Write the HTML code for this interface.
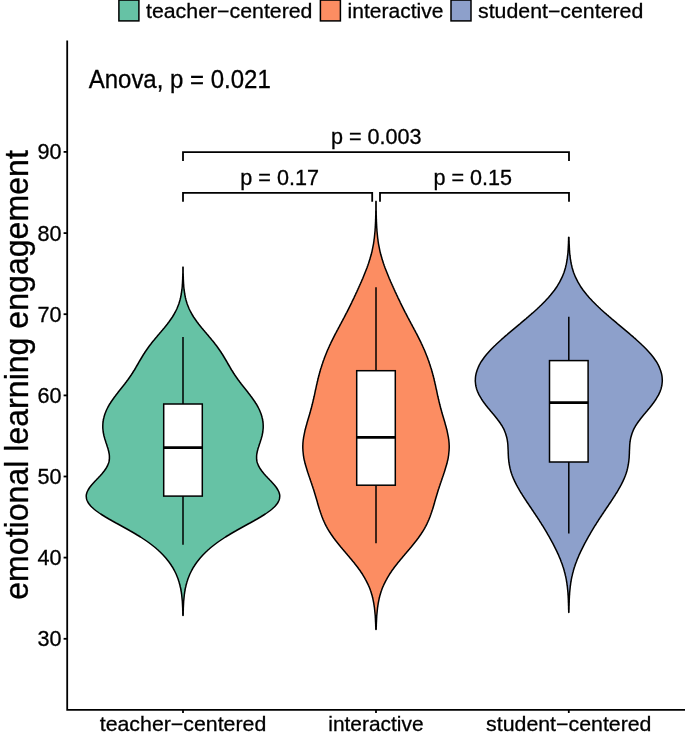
<!DOCTYPE html>
<html><head><meta charset="utf-8"><title>violin</title>
<style>
html,body{margin:0;padding:0;background:#fff;}
svg{display:block}
text{font-family:"Liberation Sans",Arial,sans-serif;fill:#000;stroke:#000;stroke-width:0.3px}
.t{font-size:21.33px}
</style></head><body>
<svg width="685" height="738" viewBox="0 0 685 738">
<rect width="685" height="738" fill="#fff"/>
<path d="M183.1,267.0 L183.1,268.0 L183.1,269.0 L183.1,270.0 L183.1,271.0 L183.1,272.0 L183.1,273.0 L183.2,274.0 L183.2,275.0 L183.2,276.0 L183.3,277.0 L183.3,278.0 L183.3,279.0 L183.4,280.0 L183.4,281.0 L183.5,282.0 L183.5,283.0 L183.6,284.0 L183.7,285.0 L183.7,286.0 L183.8,287.0 L183.9,288.0 L184.0,289.0 L184.1,290.0 L184.3,291.0 L184.4,292.0 L184.6,293.0 L184.7,294.0 L184.9,295.0 L185.1,296.0 L185.3,297.0 L185.5,298.0 L185.8,299.0 L186.0,300.0 L186.3,301.0 L186.6,302.0 L186.9,303.0 L187.2,304.0 L187.6,305.0 L188.0,306.0 L188.4,307.0 L188.8,308.0 L189.2,309.0 L189.7,310.0 L190.2,311.0 L190.7,312.0 L191.3,313.0 L191.8,314.0 L192.4,315.0 L193.0,316.0 L193.6,317.0 L194.3,318.0 L195.0,319.0 L195.7,320.0 L196.4,321.0 L197.1,322.0 L197.9,323.0 L198.6,324.0 L199.4,325.0 L200.2,326.0 L201.0,327.0 L201.8,328.0 L202.7,329.0 L203.5,330.0 L204.4,331.0 L205.2,332.0 L206.1,333.0 L206.9,334.0 L207.8,335.0 L208.6,336.0 L209.4,337.0 L210.3,338.0 L211.1,339.0 L211.9,340.0 L212.8,341.0 L213.6,342.0 L214.4,343.0 L215.1,344.0 L215.9,345.0 L216.7,346.0 L217.4,347.0 L218.1,348.0 L218.8,349.0 L219.5,350.0 L220.2,351.0 L220.9,352.0 L221.5,353.0 L222.2,354.0 L222.8,355.0 L223.4,356.0 L224.0,357.0 L224.6,358.0 L225.2,359.0 L225.8,360.0 L226.4,361.0 L227.0,362.0 L227.5,363.0 L228.1,364.0 L228.7,365.0 L229.3,366.0 L229.9,367.0 L230.4,368.0 L231.0,369.0 L231.6,370.0 L232.3,371.0 L232.9,372.0 L233.5,373.0 L234.2,374.0 L234.8,375.0 L235.5,376.0 L236.2,377.0 L236.9,378.0 L237.6,379.0 L238.3,380.0 L239.1,381.0 L239.8,382.0 L240.6,383.0 L241.3,384.0 L242.1,385.0 L242.9,386.0 L243.7,387.0 L244.5,388.0 L245.3,389.0 L246.1,390.0 L246.9,391.0 L247.7,392.0 L248.4,393.0 L249.2,394.0 L250.0,395.0 L250.7,396.0 L251.5,397.0 L252.2,398.0 L252.9,399.0 L253.6,400.0 L254.3,401.0 L255.0,402.0 L255.6,403.0 L256.3,404.0 L256.9,405.0 L257.4,406.0 L258.0,407.0 L258.5,408.0 L259.0,409.0 L259.5,410.0 L259.9,411.0 L260.3,412.0 L260.7,413.0 L261.1,414.0 L261.4,415.0 L261.7,416.0 L262.0,417.0 L262.2,418.0 L262.5,419.0 L262.6,420.0 L262.8,421.0 L262.9,422.0 L263.1,423.0 L263.1,424.0 L263.2,425.0 L263.2,426.0 L263.2,427.0 L263.2,428.0 L263.1,429.0 L263.0,430.0 L262.9,431.0 L262.8,432.0 L262.6,433.0 L262.4,434.0 L262.2,435.0 L262.0,436.0 L261.7,437.0 L261.4,438.0 L261.2,439.0 L260.8,440.0 L260.5,441.0 L260.2,442.0 L259.9,443.0 L259.5,444.0 L259.2,445.0 L258.9,446.0 L258.6,447.0 L258.2,448.0 L257.9,449.0 L257.7,450.0 L257.4,451.0 L257.2,452.0 L257.0,453.0 L256.8,454.0 L256.7,455.0 L256.6,456.0 L256.6,457.0 L256.6,458.0 L256.6,459.0 L256.7,460.0 L256.9,461.0 L257.1,462.0 L257.4,463.0 L257.8,464.0 L258.2,465.0 L258.6,466.0 L259.2,467.0 L259.7,468.0 L260.4,469.0 L261.1,470.0 L261.8,471.0 L262.6,472.0 L263.4,473.0 L264.2,474.0 L265.1,475.0 L266.0,476.0 L267.0,477.0 L267.9,478.0 L268.9,479.0 L269.8,480.0 L270.8,481.0 L271.7,482.0 L272.6,483.0 L273.5,484.0 L274.4,485.0 L275.2,486.0 L276.0,487.0 L276.7,488.0 L277.3,489.0 L277.9,490.0 L278.4,491.0 L278.9,492.0 L279.2,493.0 L279.5,494.0 L279.7,495.0 L279.8,496.0 L279.7,497.0 L279.6,498.0 L279.4,499.0 L279.1,500.0 L278.7,501.0 L278.2,502.0 L277.6,503.0 L276.9,504.0 L276.1,505.0 L275.3,506.0 L274.3,507.0 L273.2,508.0 L272.1,509.0 L270.9,510.0 L269.6,511.0 L268.2,512.0 L266.8,513.0 L265.3,514.0 L263.7,515.0 L262.1,516.0 L260.5,517.0 L258.8,518.0 L257.1,519.0 L255.3,520.0 L253.6,521.0 L251.8,522.0 L250.0,523.0 L248.1,524.0 L246.3,525.0 L244.5,526.0 L242.7,527.0 L240.9,528.0 L239.1,529.0 L237.3,530.0 L235.6,531.0 L233.8,532.0 L232.1,533.0 L230.4,534.0 L228.8,535.0 L227.1,536.0 L225.5,537.0 L224.0,538.0 L222.5,539.0 L221.0,540.0 L219.5,541.0 L218.1,542.0 L216.7,543.0 L215.4,544.0 L214.1,545.0 L212.8,546.0 L211.5,547.0 L210.3,548.0 L209.2,549.0 L208.0,550.0 L207.0,551.0 L205.9,552.0 L204.9,553.0 L203.9,554.0 L202.9,555.0 L202.0,556.0 L201.1,557.0 L200.2,558.0 L199.4,559.0 L198.6,560.0 L197.8,561.0 L197.0,562.0 L196.3,563.0 L195.6,564.0 L194.9,565.0 L194.3,566.0 L193.6,567.0 L193.0,568.0 L192.5,569.0 L191.9,570.0 L191.4,571.0 L190.9,572.0 L190.4,573.0 L189.9,574.0 L189.5,575.0 L189.1,576.0 L188.7,577.0 L188.3,578.0 L187.9,579.0 L187.6,580.0 L187.3,581.0 L186.9,582.0 L186.7,583.0 L186.4,584.0 L186.1,585.0 L185.9,586.0 L185.7,587.0 L185.4,588.0 L185.2,589.0 L185.1,590.0 L184.9,591.0 L184.7,592.0 L184.6,593.0 L184.4,594.0 L184.3,595.0 L184.2,596.0 L184.1,597.0 L184.0,598.0 L183.9,599.0 L183.8,600.0 L183.7,601.0 L183.6,602.0 L183.6,603.0 L183.5,604.0 L183.5,605.0 L183.4,606.0 L183.4,607.0 L183.3,608.0 L183.3,609.0 L183.3,610.0 L183.2,611.0 L183.2,612.0 L183.2,613.0 L183.2,614.0 L183.1,615.6 L182.9,615.6 L182.8,614.0 L182.8,613.0 L182.8,612.0 L182.8,611.0 L182.7,610.0 L182.7,609.0 L182.7,608.0 L182.6,607.0 L182.6,606.0 L182.5,605.0 L182.5,604.0 L182.4,603.0 L182.4,602.0 L182.3,601.0 L182.2,600.0 L182.1,599.0 L182.0,598.0 L181.9,597.0 L181.8,596.0 L181.7,595.0 L181.6,594.0 L181.4,593.0 L181.3,592.0 L181.1,591.0 L180.9,590.0 L180.8,589.0 L180.6,588.0 L180.3,587.0 L180.1,586.0 L179.9,585.0 L179.6,584.0 L179.3,583.0 L179.1,582.0 L178.7,581.0 L178.4,580.0 L178.1,579.0 L177.7,578.0 L177.3,577.0 L176.9,576.0 L176.5,575.0 L176.1,574.0 L175.6,573.0 L175.1,572.0 L174.6,571.0 L174.1,570.0 L173.5,569.0 L173.0,568.0 L172.4,567.0 L171.7,566.0 L171.1,565.0 L170.4,564.0 L169.7,563.0 L169.0,562.0 L168.2,561.0 L167.4,560.0 L166.6,559.0 L165.8,558.0 L164.9,557.0 L164.0,556.0 L163.1,555.0 L162.1,554.0 L161.1,553.0 L160.1,552.0 L159.0,551.0 L158.0,550.0 L156.8,549.0 L155.7,548.0 L154.5,547.0 L153.2,546.0 L151.9,545.0 L150.6,544.0 L149.3,543.0 L147.9,542.0 L146.5,541.0 L145.0,540.0 L143.5,539.0 L142.0,538.0 L140.5,537.0 L138.9,536.0 L137.2,535.0 L135.6,534.0 L133.9,533.0 L132.2,532.0 L130.4,531.0 L128.7,530.0 L126.9,529.0 L125.1,528.0 L123.3,527.0 L121.5,526.0 L119.7,525.0 L117.9,524.0 L116.0,523.0 L114.2,522.0 L112.4,521.0 L110.7,520.0 L108.9,519.0 L107.2,518.0 L105.5,517.0 L103.9,516.0 L102.3,515.0 L100.7,514.0 L99.2,513.0 L97.8,512.0 L96.4,511.0 L95.1,510.0 L93.9,509.0 L92.8,508.0 L91.7,507.0 L90.7,506.0 L89.9,505.0 L89.1,504.0 L88.4,503.0 L87.8,502.0 L87.3,501.0 L86.9,500.0 L86.6,499.0 L86.4,498.0 L86.3,497.0 L86.2,496.0 L86.3,495.0 L86.5,494.0 L86.8,493.0 L87.1,492.0 L87.6,491.0 L88.1,490.0 L88.7,489.0 L89.3,488.0 L90.0,487.0 L90.8,486.0 L91.6,485.0 L92.5,484.0 L93.4,483.0 L94.3,482.0 L95.2,481.0 L96.2,480.0 L97.1,479.0 L98.1,478.0 L99.0,477.0 L100.0,476.0 L100.9,475.0 L101.8,474.0 L102.6,473.0 L103.4,472.0 L104.2,471.0 L104.9,470.0 L105.6,469.0 L106.3,468.0 L106.8,467.0 L107.4,466.0 L107.8,465.0 L108.2,464.0 L108.6,463.0 L108.9,462.0 L109.1,461.0 L109.3,460.0 L109.4,459.0 L109.4,458.0 L109.4,457.0 L109.4,456.0 L109.3,455.0 L109.2,454.0 L109.0,453.0 L108.8,452.0 L108.6,451.0 L108.3,450.0 L108.1,449.0 L107.8,448.0 L107.4,447.0 L107.1,446.0 L106.8,445.0 L106.5,444.0 L106.1,443.0 L105.8,442.0 L105.5,441.0 L105.2,440.0 L104.8,439.0 L104.6,438.0 L104.3,437.0 L104.0,436.0 L103.8,435.0 L103.6,434.0 L103.4,433.0 L103.2,432.0 L103.1,431.0 L103.0,430.0 L102.9,429.0 L102.8,428.0 L102.8,427.0 L102.8,426.0 L102.8,425.0 L102.9,424.0 L102.9,423.0 L103.1,422.0 L103.2,421.0 L103.4,420.0 L103.5,419.0 L103.8,418.0 L104.0,417.0 L104.3,416.0 L104.6,415.0 L104.9,414.0 L105.3,413.0 L105.7,412.0 L106.1,411.0 L106.5,410.0 L107.0,409.0 L107.5,408.0 L108.0,407.0 L108.6,406.0 L109.1,405.0 L109.7,404.0 L110.4,403.0 L111.0,402.0 L111.7,401.0 L112.4,400.0 L113.1,399.0 L113.8,398.0 L114.5,397.0 L115.3,396.0 L116.0,395.0 L116.8,394.0 L117.6,393.0 L118.3,392.0 L119.1,391.0 L119.9,390.0 L120.7,389.0 L121.5,388.0 L122.3,387.0 L123.1,386.0 L123.9,385.0 L124.7,384.0 L125.4,383.0 L126.2,382.0 L126.9,381.0 L127.7,380.0 L128.4,379.0 L129.1,378.0 L129.8,377.0 L130.5,376.0 L131.2,375.0 L131.8,374.0 L132.5,373.0 L133.1,372.0 L133.7,371.0 L134.4,370.0 L135.0,369.0 L135.6,368.0 L136.1,367.0 L136.7,366.0 L137.3,365.0 L137.9,364.0 L138.5,363.0 L139.0,362.0 L139.6,361.0 L140.2,360.0 L140.8,359.0 L141.4,358.0 L142.0,357.0 L142.6,356.0 L143.2,355.0 L143.8,354.0 L144.5,353.0 L145.1,352.0 L145.8,351.0 L146.5,350.0 L147.2,349.0 L147.9,348.0 L148.6,347.0 L149.3,346.0 L150.1,345.0 L150.9,344.0 L151.6,343.0 L152.4,342.0 L153.2,341.0 L154.1,340.0 L154.9,339.0 L155.7,338.0 L156.6,337.0 L157.4,336.0 L158.2,335.0 L159.1,334.0 L159.9,333.0 L160.8,332.0 L161.6,331.0 L162.5,330.0 L163.3,329.0 L164.2,328.0 L165.0,327.0 L165.8,326.0 L166.6,325.0 L167.4,324.0 L168.1,323.0 L168.9,322.0 L169.6,321.0 L170.3,320.0 L171.0,319.0 L171.7,318.0 L172.4,317.0 L173.0,316.0 L173.6,315.0 L174.2,314.0 L174.7,313.0 L175.3,312.0 L175.8,311.0 L176.3,310.0 L176.8,309.0 L177.2,308.0 L177.6,307.0 L178.0,306.0 L178.4,305.0 L178.8,304.0 L179.1,303.0 L179.4,302.0 L179.7,301.0 L180.0,300.0 L180.2,299.0 L180.5,298.0 L180.7,297.0 L180.9,296.0 L181.1,295.0 L181.3,294.0 L181.4,293.0 L181.6,292.0 L181.7,291.0 L181.9,290.0 L182.0,289.0 L182.1,288.0 L182.2,287.0 L182.3,286.0 L182.3,285.0 L182.4,284.0 L182.5,283.0 L182.5,282.0 L182.6,281.0 L182.6,280.0 L182.7,279.0 L182.7,278.0 L182.7,277.0 L182.8,276.0 L182.8,275.0 L182.8,274.0 L182.9,273.0 L182.9,272.0 L182.9,271.0 L182.9,270.0 L182.9,269.0 L182.9,268.0 L182.9,267.0Z" fill="#66C2A5" stroke="#000" stroke-width="1.5" stroke-linejoin="miter" stroke-miterlimit="1"/>
<path d="M376.1,201.3 L376.1,202.3 L376.1,203.3 L376.1,204.3 L376.1,205.3 L376.1,206.3 L376.1,207.3 L376.1,208.3 L376.1,209.3 L376.1,210.3 L376.2,211.3 L376.2,212.3 L376.2,213.3 L376.2,214.3 L376.2,215.3 L376.3,216.3 L376.3,217.3 L376.3,218.3 L376.4,219.3 L376.4,220.3 L376.4,221.3 L376.5,222.3 L376.5,223.3 L376.6,224.3 L376.6,225.3 L376.7,226.3 L376.7,227.3 L376.8,228.3 L376.9,229.3 L376.9,230.3 L377.0,231.3 L377.1,232.3 L377.2,233.3 L377.3,234.3 L377.4,235.3 L377.5,236.3 L377.6,237.3 L377.7,238.3 L377.9,239.3 L378.0,240.3 L378.1,241.3 L378.3,242.3 L378.4,243.3 L378.6,244.3 L378.8,245.3 L379.0,246.3 L379.2,247.3 L379.4,248.3 L379.6,249.3 L379.8,250.3 L380.0,251.3 L380.2,252.3 L380.5,253.3 L380.7,254.3 L381.0,255.3 L381.3,256.3 L381.6,257.3 L381.9,258.3 L382.1,259.3 L382.5,260.3 L382.8,261.3 L383.1,262.3 L383.4,263.3 L383.8,264.3 L384.1,265.3 L384.5,266.3 L384.8,267.3 L385.2,268.3 L385.6,269.3 L386.0,270.3 L386.4,271.3 L386.8,272.3 L387.2,273.3 L387.6,274.3 L388.0,275.3 L388.4,276.3 L388.8,277.3 L389.2,278.3 L389.7,279.3 L390.1,280.3 L390.5,281.3 L391.0,282.3 L391.4,283.3 L391.9,284.3 L392.3,285.3 L392.8,286.3 L393.2,287.3 L393.7,288.3 L394.1,289.3 L394.6,290.3 L395.0,291.3 L395.5,292.3 L396.0,293.3 L396.4,294.3 L396.9,295.3 L397.4,296.3 L397.8,297.3 L398.3,298.3 L398.8,299.3 L399.3,300.3 L399.8,301.3 L400.2,302.3 L400.7,303.3 L401.2,304.3 L401.7,305.3 L402.2,306.3 L402.7,307.3 L403.2,308.3 L403.7,309.3 L404.2,310.3 L404.7,311.3 L405.2,312.3 L405.8,313.3 L406.3,314.3 L406.8,315.3 L407.3,316.3 L407.8,317.3 L408.4,318.3 L408.9,319.3 L409.4,320.3 L410.0,321.3 L410.5,322.3 L411.0,323.3 L411.6,324.3 L412.1,325.3 L412.6,326.3 L413.2,327.3 L413.7,328.3 L414.2,329.3 L414.8,330.3 L415.3,331.3 L415.8,332.3 L416.4,333.3 L416.9,334.3 L417.4,335.3 L417.9,336.3 L418.4,337.3 L418.9,338.3 L419.4,339.3 L419.9,340.3 L420.4,341.3 L420.9,342.3 L421.3,343.3 L421.8,344.3 L422.3,345.3 L422.7,346.3 L423.2,347.3 L423.6,348.3 L424.1,349.3 L424.5,350.3 L424.9,351.3 L425.3,352.3 L425.7,353.3 L426.1,354.3 L426.5,355.3 L426.9,356.3 L427.3,357.3 L427.7,358.3 L428.0,359.3 L428.4,360.3 L428.8,361.3 L429.1,362.3 L429.4,363.3 L429.8,364.3 L430.1,365.3 L430.4,366.3 L430.7,367.3 L431.1,368.3 L431.4,369.3 L431.7,370.3 L431.9,371.3 L432.2,372.3 L432.5,373.3 L432.8,374.3 L433.0,375.3 L433.3,376.3 L433.6,377.3 L433.8,378.3 L434.1,379.3 L434.3,380.3 L434.5,381.3 L434.8,382.3 L435.0,383.3 L435.2,384.3 L435.5,385.3 L435.7,386.3 L435.9,387.3 L436.1,388.3 L436.3,389.3 L436.6,390.3 L436.8,391.3 L437.0,392.3 L437.2,393.3 L437.4,394.3 L437.6,395.3 L437.8,396.3 L438.1,397.3 L438.3,398.3 L438.5,399.3 L438.8,400.3 L439.0,401.3 L439.2,402.3 L439.5,403.3 L439.7,404.3 L440.0,405.3 L440.2,406.3 L440.5,407.3 L440.7,408.3 L441.0,409.3 L441.3,410.3 L441.6,411.3 L441.8,412.3 L442.1,413.3 L442.4,414.3 L442.7,415.3 L443.0,416.3 L443.3,417.3 L443.6,418.3 L443.9,419.3 L444.2,420.3 L444.5,421.3 L444.8,422.3 L445.1,423.3 L445.3,424.3 L445.6,425.3 L445.9,426.3 L446.2,427.3 L446.4,428.3 L446.7,429.3 L447.0,430.3 L447.2,431.3 L447.4,432.3 L447.6,433.3 L447.8,434.3 L448.0,435.3 L448.2,436.3 L448.4,437.3 L448.5,438.3 L448.7,439.3 L448.8,440.3 L448.9,441.3 L449.0,442.3 L449.1,443.3 L449.1,444.3 L449.2,445.3 L449.2,446.3 L449.2,447.3 L449.2,448.3 L449.1,449.3 L449.1,450.3 L449.0,451.3 L448.9,452.3 L448.8,453.3 L448.7,454.3 L448.6,455.3 L448.4,456.3 L448.3,457.3 L448.1,458.3 L447.9,459.3 L447.7,460.3 L447.4,461.3 L447.2,462.3 L447.0,463.3 L446.7,464.3 L446.4,465.3 L446.1,466.3 L445.8,467.3 L445.5,468.3 L445.2,469.3 L444.9,470.3 L444.6,471.3 L444.3,472.3 L443.9,473.3 L443.6,474.3 L443.3,475.3 L442.9,476.3 L442.6,477.3 L442.2,478.3 L441.9,479.3 L441.6,480.3 L441.2,481.3 L440.9,482.3 L440.5,483.3 L440.2,484.3 L439.9,485.3 L439.5,486.3 L439.2,487.3 L438.9,488.3 L438.5,489.3 L438.2,490.3 L437.9,491.3 L437.6,492.3 L437.3,493.3 L437.0,494.3 L436.7,495.3 L436.4,496.3 L436.1,497.3 L435.8,498.3 L435.5,499.3 L435.2,500.3 L434.9,501.3 L434.6,502.3 L434.4,503.3 L434.1,504.3 L433.8,505.3 L433.5,506.3 L433.2,507.3 L432.9,508.3 L432.6,509.3 L432.2,510.3 L431.9,511.3 L431.6,512.3 L431.2,513.3 L430.9,514.3 L430.5,515.3 L430.2,516.3 L429.8,517.3 L429.4,518.3 L429.0,519.3 L428.5,520.3 L428.1,521.3 L427.6,522.3 L427.2,523.3 L426.7,524.3 L426.2,525.3 L425.7,526.3 L425.1,527.3 L424.6,528.3 L424.0,529.3 L423.4,530.3 L422.8,531.3 L422.2,532.3 L421.5,533.3 L420.9,534.3 L420.2,535.3 L419.5,536.3 L418.8,537.3 L418.1,538.3 L417.3,539.3 L416.6,540.3 L415.8,541.3 L415.0,542.3 L414.2,543.3 L413.4,544.3 L412.6,545.3 L411.8,546.3 L411.0,547.3 L410.1,548.3 L409.3,549.3 L408.4,550.3 L407.6,551.3 L406.7,552.3 L405.9,553.3 L405.0,554.3 L404.2,555.3 L403.3,556.3 L402.5,557.3 L401.7,558.3 L400.8,559.3 L400.0,560.3 L399.2,561.3 L398.3,562.3 L397.5,563.3 L396.8,564.3 L396.0,565.3 L395.2,566.3 L394.4,567.3 L393.7,568.3 L393.0,569.3 L392.2,570.3 L391.5,571.3 L390.9,572.3 L390.2,573.3 L389.5,574.3 L388.9,575.3 L388.3,576.3 L387.7,577.3 L387.1,578.3 L386.6,579.3 L386.0,580.3 L385.5,581.3 L385.0,582.3 L384.5,583.3 L384.0,584.3 L383.6,585.3 L383.1,586.3 L382.7,587.3 L382.3,588.3 L381.9,589.3 L381.6,590.3 L381.2,591.3 L380.9,592.3 L380.6,593.3 L380.3,594.3 L380.0,595.3 L379.7,596.3 L379.5,597.3 L379.2,598.3 L379.0,599.3 L378.8,600.3 L378.6,601.3 L378.4,602.3 L378.2,603.3 L378.1,604.3 L377.9,605.3 L377.8,606.3 L377.6,607.3 L377.5,608.3 L377.4,609.3 L377.3,610.3 L377.2,611.3 L377.1,612.3 L377.0,613.3 L376.9,614.3 L376.8,615.3 L376.7,616.3 L376.7,617.3 L376.6,618.3 L376.6,619.3 L376.5,620.3 L376.5,621.3 L376.4,622.3 L376.4,623.3 L376.3,624.3 L376.3,625.3 L376.3,626.3 L376.2,627.3 L376.2,628.3 L376.2,629.6 L375.8,629.6 L375.8,628.3 L375.8,627.3 L375.7,626.3 L375.7,625.3 L375.7,624.3 L375.6,623.3 L375.6,622.3 L375.5,621.3 L375.5,620.3 L375.4,619.3 L375.4,618.3 L375.3,617.3 L375.3,616.3 L375.2,615.3 L375.1,614.3 L375.0,613.3 L374.9,612.3 L374.8,611.3 L374.7,610.3 L374.6,609.3 L374.5,608.3 L374.4,607.3 L374.2,606.3 L374.1,605.3 L373.9,604.3 L373.8,603.3 L373.6,602.3 L373.4,601.3 L373.2,600.3 L373.0,599.3 L372.8,598.3 L372.5,597.3 L372.3,596.3 L372.0,595.3 L371.7,594.3 L371.4,593.3 L371.1,592.3 L370.8,591.3 L370.4,590.3 L370.1,589.3 L369.7,588.3 L369.3,587.3 L368.9,586.3 L368.4,585.3 L368.0,584.3 L367.5,583.3 L367.0,582.3 L366.5,581.3 L366.0,580.3 L365.4,579.3 L364.9,578.3 L364.3,577.3 L363.7,576.3 L363.1,575.3 L362.5,574.3 L361.8,573.3 L361.1,572.3 L360.5,571.3 L359.8,570.3 L359.0,569.3 L358.3,568.3 L357.6,567.3 L356.8,566.3 L356.0,565.3 L355.2,564.3 L354.5,563.3 L353.7,562.3 L352.8,561.3 L352.0,560.3 L351.2,559.3 L350.3,558.3 L349.5,557.3 L348.7,556.3 L347.8,555.3 L347.0,554.3 L346.1,553.3 L345.3,552.3 L344.4,551.3 L343.6,550.3 L342.7,549.3 L341.9,548.3 L341.0,547.3 L340.2,546.3 L339.4,545.3 L338.6,544.3 L337.8,543.3 L337.0,542.3 L336.2,541.3 L335.4,540.3 L334.7,539.3 L333.9,538.3 L333.2,537.3 L332.5,536.3 L331.8,535.3 L331.1,534.3 L330.5,533.3 L329.8,532.3 L329.2,531.3 L328.6,530.3 L328.0,529.3 L327.4,528.3 L326.9,527.3 L326.3,526.3 L325.8,525.3 L325.3,524.3 L324.8,523.3 L324.4,522.3 L323.9,521.3 L323.5,520.3 L323.0,519.3 L322.6,518.3 L322.2,517.3 L321.8,516.3 L321.5,515.3 L321.1,514.3 L320.8,513.3 L320.4,512.3 L320.1,511.3 L319.8,510.3 L319.4,509.3 L319.1,508.3 L318.8,507.3 L318.5,506.3 L318.2,505.3 L317.9,504.3 L317.6,503.3 L317.4,502.3 L317.1,501.3 L316.8,500.3 L316.5,499.3 L316.2,498.3 L315.9,497.3 L315.6,496.3 L315.3,495.3 L315.0,494.3 L314.7,493.3 L314.4,492.3 L314.1,491.3 L313.8,490.3 L313.5,489.3 L313.1,488.3 L312.8,487.3 L312.5,486.3 L312.1,485.3 L311.8,484.3 L311.5,483.3 L311.1,482.3 L310.8,481.3 L310.4,480.3 L310.1,479.3 L309.8,478.3 L309.4,477.3 L309.1,476.3 L308.7,475.3 L308.4,474.3 L308.1,473.3 L307.7,472.3 L307.4,471.3 L307.1,470.3 L306.8,469.3 L306.5,468.3 L306.2,467.3 L305.9,466.3 L305.6,465.3 L305.3,464.3 L305.0,463.3 L304.8,462.3 L304.6,461.3 L304.3,460.3 L304.1,459.3 L303.9,458.3 L303.7,457.3 L303.6,456.3 L303.4,455.3 L303.3,454.3 L303.2,453.3 L303.1,452.3 L303.0,451.3 L302.9,450.3 L302.9,449.3 L302.8,448.3 L302.8,447.3 L302.8,446.3 L302.8,445.3 L302.9,444.3 L302.9,443.3 L303.0,442.3 L303.1,441.3 L303.2,440.3 L303.3,439.3 L303.5,438.3 L303.6,437.3 L303.8,436.3 L304.0,435.3 L304.2,434.3 L304.4,433.3 L304.6,432.3 L304.8,431.3 L305.0,430.3 L305.3,429.3 L305.6,428.3 L305.8,427.3 L306.1,426.3 L306.4,425.3 L306.7,424.3 L306.9,423.3 L307.2,422.3 L307.5,421.3 L307.8,420.3 L308.1,419.3 L308.4,418.3 L308.7,417.3 L309.0,416.3 L309.3,415.3 L309.6,414.3 L309.9,413.3 L310.2,412.3 L310.4,411.3 L310.7,410.3 L311.0,409.3 L311.3,408.3 L311.5,407.3 L311.8,406.3 L312.0,405.3 L312.3,404.3 L312.5,403.3 L312.8,402.3 L313.0,401.3 L313.2,400.3 L313.5,399.3 L313.7,398.3 L313.9,397.3 L314.2,396.3 L314.4,395.3 L314.6,394.3 L314.8,393.3 L315.0,392.3 L315.2,391.3 L315.4,390.3 L315.7,389.3 L315.9,388.3 L316.1,387.3 L316.3,386.3 L316.5,385.3 L316.8,384.3 L317.0,383.3 L317.2,382.3 L317.5,381.3 L317.7,380.3 L317.9,379.3 L318.2,378.3 L318.4,377.3 L318.7,376.3 L319.0,375.3 L319.2,374.3 L319.5,373.3 L319.8,372.3 L320.1,371.3 L320.3,370.3 L320.6,369.3 L320.9,368.3 L321.3,367.3 L321.6,366.3 L321.9,365.3 L322.2,364.3 L322.6,363.3 L322.9,362.3 L323.2,361.3 L323.6,360.3 L324.0,359.3 L324.3,358.3 L324.7,357.3 L325.1,356.3 L325.5,355.3 L325.9,354.3 L326.3,353.3 L326.7,352.3 L327.1,351.3 L327.5,350.3 L327.9,349.3 L328.4,348.3 L328.8,347.3 L329.3,346.3 L329.7,345.3 L330.2,344.3 L330.7,343.3 L331.1,342.3 L331.6,341.3 L332.1,340.3 L332.6,339.3 L333.1,338.3 L333.6,337.3 L334.1,336.3 L334.6,335.3 L335.1,334.3 L335.6,333.3 L336.2,332.3 L336.7,331.3 L337.2,330.3 L337.8,329.3 L338.3,328.3 L338.8,327.3 L339.4,326.3 L339.9,325.3 L340.4,324.3 L341.0,323.3 L341.5,322.3 L342.0,321.3 L342.6,320.3 L343.1,319.3 L343.6,318.3 L344.2,317.3 L344.7,316.3 L345.2,315.3 L345.7,314.3 L346.2,313.3 L346.8,312.3 L347.3,311.3 L347.8,310.3 L348.3,309.3 L348.8,308.3 L349.3,307.3 L349.8,306.3 L350.3,305.3 L350.8,304.3 L351.3,303.3 L351.8,302.3 L352.2,301.3 L352.7,300.3 L353.2,299.3 L353.7,298.3 L354.2,297.3 L354.6,296.3 L355.1,295.3 L355.6,294.3 L356.0,293.3 L356.5,292.3 L357.0,291.3 L357.4,290.3 L357.9,289.3 L358.3,288.3 L358.8,287.3 L359.2,286.3 L359.7,285.3 L360.1,284.3 L360.6,283.3 L361.0,282.3 L361.5,281.3 L361.9,280.3 L362.3,279.3 L362.8,278.3 L363.2,277.3 L363.6,276.3 L364.0,275.3 L364.4,274.3 L364.8,273.3 L365.2,272.3 L365.6,271.3 L366.0,270.3 L366.4,269.3 L366.8,268.3 L367.2,267.3 L367.5,266.3 L367.9,265.3 L368.2,264.3 L368.6,263.3 L368.9,262.3 L369.2,261.3 L369.5,260.3 L369.9,259.3 L370.1,258.3 L370.4,257.3 L370.7,256.3 L371.0,255.3 L371.3,254.3 L371.5,253.3 L371.8,252.3 L372.0,251.3 L372.2,250.3 L372.4,249.3 L372.6,248.3 L372.8,247.3 L373.0,246.3 L373.2,245.3 L373.4,244.3 L373.6,243.3 L373.7,242.3 L373.9,241.3 L374.0,240.3 L374.1,239.3 L374.3,238.3 L374.4,237.3 L374.5,236.3 L374.6,235.3 L374.7,234.3 L374.8,233.3 L374.9,232.3 L375.0,231.3 L375.1,230.3 L375.1,229.3 L375.2,228.3 L375.3,227.3 L375.3,226.3 L375.4,225.3 L375.4,224.3 L375.5,223.3 L375.5,222.3 L375.6,221.3 L375.6,220.3 L375.6,219.3 L375.7,218.3 L375.7,217.3 L375.7,216.3 L375.8,215.3 L375.8,214.3 L375.8,213.3 L375.8,212.3 L375.8,211.3 L375.9,210.3 L375.9,209.3 L375.9,208.3 L375.9,207.3 L375.9,206.3 L375.9,205.3 L375.9,204.3 L375.9,203.3 L375.9,202.3 L375.9,201.3Z" fill="#FC8D62" stroke="#000" stroke-width="1.5" stroke-linejoin="miter" stroke-miterlimit="1"/>
<path d="M569.0,237.2 L569.0,238.2 L569.0,239.2 L569.0,240.2 L569.1,241.2 L569.1,242.2 L569.1,243.2 L569.2,244.2 L569.2,245.2 L569.3,246.2 L569.3,247.2 L569.4,248.2 L569.4,249.2 L569.5,250.2 L569.6,251.2 L569.6,252.2 L569.7,253.2 L569.8,254.2 L569.9,255.2 L570.1,256.2 L570.2,257.2 L570.3,258.2 L570.4,259.2 L570.6,260.2 L570.8,261.2 L570.9,262.2 L571.1,263.2 L571.3,264.2 L571.6,265.2 L571.8,266.2 L572.0,267.2 L572.3,268.2 L572.6,269.2 L572.9,270.2 L573.2,271.2 L573.5,272.2 L573.9,273.2 L574.3,274.2 L574.7,275.2 L575.1,276.2 L575.5,277.2 L576.0,278.2 L576.5,279.2 L577.0,280.2 L577.5,281.2 L578.0,282.2 L578.6,283.2 L579.2,284.2 L579.8,285.2 L580.4,286.2 L581.1,287.2 L581.8,288.2 L582.5,289.2 L583.2,290.2 L584.0,291.2 L584.8,292.2 L585.6,293.2 L586.4,294.2 L587.2,295.2 L588.1,296.2 L588.9,297.2 L589.8,298.2 L590.8,299.2 L591.7,300.2 L592.6,301.2 L593.6,302.2 L594.6,303.2 L595.6,304.2 L596.6,305.2 L597.7,306.2 L598.7,307.2 L599.8,308.2 L600.8,309.2 L601.9,310.2 L603.0,311.2 L604.1,312.2 L605.2,313.2 L606.4,314.2 L607.5,315.2 L608.7,316.2 L609.8,317.2 L611.0,318.2 L612.1,319.2 L613.3,320.2 L614.5,321.2 L615.7,322.2 L616.9,323.2 L618.0,324.2 L619.2,325.2 L620.4,326.2 L621.6,327.2 L622.8,328.2 L624.0,329.2 L625.2,330.2 L626.4,331.2 L627.6,332.2 L628.8,333.2 L630.0,334.2 L631.1,335.2 L632.3,336.2 L633.5,337.2 L634.6,338.2 L635.8,339.2 L636.9,340.2 L638.0,341.2 L639.1,342.2 L640.2,343.2 L641.3,344.2 L642.3,345.2 L643.4,346.2 L644.4,347.2 L645.4,348.2 L646.4,349.2 L647.3,350.2 L648.2,351.2 L649.1,352.2 L650.0,353.2 L650.9,354.2 L651.7,355.2 L652.5,356.2 L653.3,357.2 L654.0,358.2 L654.7,359.2 L655.4,360.2 L656.1,361.2 L656.7,362.2 L657.3,363.2 L657.8,364.2 L658.4,365.2 L658.8,366.2 L659.3,367.2 L659.7,368.2 L660.1,369.2 L660.5,370.2 L660.8,371.2 L661.1,372.2 L661.4,373.2 L661.6,374.2 L661.8,375.2 L662.0,376.2 L662.1,377.2 L662.2,378.2 L662.2,379.2 L662.3,380.2 L662.3,381.2 L662.2,382.2 L662.1,383.2 L662.0,384.2 L661.9,385.2 L661.7,386.2 L661.4,387.2 L661.2,388.2 L660.9,389.2 L660.5,390.2 L660.2,391.2 L659.8,392.2 L659.3,393.2 L658.9,394.2 L658.4,395.2 L657.8,396.2 L657.2,397.2 L656.6,398.2 L656.0,399.2 L655.3,400.2 L654.7,401.2 L653.9,402.2 L653.2,403.2 L652.4,404.2 L651.7,405.2 L650.9,406.2 L650.1,407.2 L649.3,408.2 L648.4,409.2 L647.6,410.2 L646.8,411.2 L645.9,412.2 L645.1,413.2 L644.2,414.2 L643.4,415.2 L642.6,416.2 L641.8,417.2 L641.0,418.2 L640.2,419.2 L639.5,420.2 L638.7,421.2 L638.0,422.2 L637.3,423.2 L636.7,424.2 L636.0,425.2 L635.4,426.2 L634.9,427.2 L634.3,428.2 L633.8,429.2 L633.3,430.2 L632.9,431.2 L632.5,432.2 L632.1,433.2 L631.8,434.2 L631.5,435.2 L631.2,436.2 L630.9,437.2 L630.7,438.2 L630.5,439.2 L630.3,440.2 L630.2,441.2 L630.0,442.2 L629.9,443.2 L629.8,444.2 L629.7,445.2 L629.7,446.2 L629.6,447.2 L629.6,448.2 L629.5,449.2 L629.5,450.2 L629.4,451.2 L629.4,452.2 L629.4,453.2 L629.3,454.2 L629.3,455.2 L629.2,456.2 L629.2,457.2 L629.1,458.2 L629.0,459.2 L628.9,460.2 L628.8,461.2 L628.7,462.2 L628.5,463.2 L628.4,464.2 L628.2,465.2 L628.0,466.2 L627.8,467.2 L627.6,468.2 L627.3,469.2 L627.1,470.2 L626.8,471.2 L626.5,472.2 L626.2,473.2 L625.8,474.2 L625.5,475.2 L625.1,476.2 L624.7,477.2 L624.3,478.2 L623.9,479.2 L623.4,480.2 L623.0,481.2 L622.5,482.2 L622.0,483.2 L621.5,484.2 L621.0,485.2 L620.4,486.2 L619.9,487.2 L619.3,488.2 L618.7,489.2 L618.2,490.2 L617.6,491.2 L617.0,492.2 L616.3,493.2 L615.7,494.2 L615.1,495.2 L614.4,496.2 L613.8,497.2 L613.1,498.2 L612.5,499.2 L611.8,500.2 L611.2,501.2 L610.5,502.2 L609.8,503.2 L609.1,504.2 L608.5,505.2 L607.8,506.2 L607.1,507.2 L606.4,508.2 L605.8,509.2 L605.1,510.2 L604.4,511.2 L603.8,512.2 L603.1,513.2 L602.4,514.2 L601.8,515.2 L601.1,516.2 L600.4,517.2 L599.8,518.2 L599.1,519.2 L598.5,520.2 L597.9,521.2 L597.2,522.2 L596.6,523.2 L596.0,524.2 L595.3,525.2 L594.7,526.2 L594.1,527.2 L593.5,528.2 L592.9,529.2 L592.3,530.2 L591.7,531.2 L591.1,532.2 L590.5,533.2 L590.0,534.2 L589.4,535.2 L588.8,536.2 L588.2,537.2 L587.7,538.2 L587.1,539.2 L586.6,540.2 L586.0,541.2 L585.5,542.2 L584.9,543.2 L584.4,544.2 L583.9,545.2 L583.4,546.2 L582.9,547.2 L582.4,548.2 L581.9,549.2 L581.4,550.2 L580.9,551.2 L580.4,552.2 L580.0,553.2 L579.5,554.2 L579.0,555.2 L578.6,556.2 L578.2,557.2 L577.8,558.2 L577.3,559.2 L576.9,560.2 L576.6,561.2 L576.2,562.2 L575.8,563.2 L575.4,564.2 L575.1,565.2 L574.8,566.2 L574.4,567.2 L574.1,568.2 L573.8,569.2 L573.5,570.2 L573.3,571.2 L573.0,572.2 L572.7,573.2 L572.5,574.2 L572.3,575.2 L572.0,576.2 L571.8,577.2 L571.6,578.2 L571.4,579.2 L571.2,580.2 L571.1,581.2 L570.9,582.2 L570.7,583.2 L570.6,584.2 L570.5,585.2 L570.3,586.2 L570.2,587.2 L570.1,588.2 L570.0,589.2 L569.9,590.2 L569.8,591.2 L569.7,592.2 L569.6,593.2 L569.6,594.2 L569.5,595.2 L569.4,596.2 L569.4,597.2 L569.3,598.2 L569.3,599.2 L569.2,600.2 L569.2,601.2 L569.2,602.2 L569.1,603.2 L569.1,604.2 L569.1,605.2 L569.0,606.2 L569.0,607.2 L569.0,608.2 L569.0,609.2 L568.9,610.2 L568.9,611.2 L568.9,612.6 L568.7,612.6 L568.7,611.2 L568.7,610.2 L568.6,609.2 L568.6,608.2 L568.6,607.2 L568.6,606.2 L568.5,605.2 L568.5,604.2 L568.5,603.2 L568.4,602.2 L568.4,601.2 L568.4,600.2 L568.3,599.2 L568.3,598.2 L568.2,597.2 L568.2,596.2 L568.1,595.2 L568.0,594.2 L568.0,593.2 L567.9,592.2 L567.8,591.2 L567.7,590.2 L567.6,589.2 L567.5,588.2 L567.4,587.2 L567.3,586.2 L567.1,585.2 L567.0,584.2 L566.9,583.2 L566.7,582.2 L566.5,581.2 L566.4,580.2 L566.2,579.2 L566.0,578.2 L565.8,577.2 L565.6,576.2 L565.3,575.2 L565.1,574.2 L564.9,573.2 L564.6,572.2 L564.3,571.2 L564.1,570.2 L563.8,569.2 L563.5,568.2 L563.2,567.2 L562.8,566.2 L562.5,565.2 L562.2,564.2 L561.8,563.2 L561.4,562.2 L561.0,561.2 L560.7,560.2 L560.3,559.2 L559.8,558.2 L559.4,557.2 L559.0,556.2 L558.6,555.2 L558.1,554.2 L557.6,553.2 L557.2,552.2 L556.7,551.2 L556.2,550.2 L555.7,549.2 L555.2,548.2 L554.7,547.2 L554.2,546.2 L553.7,545.2 L553.2,544.2 L552.7,543.2 L552.1,542.2 L551.6,541.2 L551.0,540.2 L550.5,539.2 L549.9,538.2 L549.4,537.2 L548.8,536.2 L548.2,535.2 L547.6,534.2 L547.1,533.2 L546.5,532.2 L545.9,531.2 L545.3,530.2 L544.7,529.2 L544.1,528.2 L543.5,527.2 L542.9,526.2 L542.3,525.2 L541.6,524.2 L541.0,523.2 L540.4,522.2 L539.7,521.2 L539.1,520.2 L538.5,519.2 L537.8,518.2 L537.2,517.2 L536.5,516.2 L535.8,515.2 L535.2,514.2 L534.5,513.2 L533.8,512.2 L533.2,511.2 L532.5,510.2 L531.8,509.2 L531.2,508.2 L530.5,507.2 L529.8,506.2 L529.1,505.2 L528.5,504.2 L527.8,503.2 L527.1,502.2 L526.4,501.2 L525.8,500.2 L525.1,499.2 L524.5,498.2 L523.8,497.2 L523.2,496.2 L522.5,495.2 L521.9,494.2 L521.3,493.2 L520.6,492.2 L520.0,491.2 L519.4,490.2 L518.9,489.2 L518.3,488.2 L517.7,487.2 L517.2,486.2 L516.6,485.2 L516.1,484.2 L515.6,483.2 L515.1,482.2 L514.6,481.2 L514.2,480.2 L513.7,479.2 L513.3,478.2 L512.9,477.2 L512.5,476.2 L512.1,475.2 L511.8,474.2 L511.4,473.2 L511.1,472.2 L510.8,471.2 L510.5,470.2 L510.3,469.2 L510.0,468.2 L509.8,467.2 L509.6,466.2 L509.4,465.2 L509.2,464.2 L509.1,463.2 L508.9,462.2 L508.8,461.2 L508.7,460.2 L508.6,459.2 L508.5,458.2 L508.4,457.2 L508.4,456.2 L508.3,455.2 L508.3,454.2 L508.2,453.2 L508.2,452.2 L508.2,451.2 L508.1,450.2 L508.1,449.2 L508.0,448.2 L508.0,447.2 L507.9,446.2 L507.9,445.2 L507.8,444.2 L507.7,443.2 L507.6,442.2 L507.4,441.2 L507.3,440.2 L507.1,439.2 L506.9,438.2 L506.7,437.2 L506.4,436.2 L506.1,435.2 L505.8,434.2 L505.5,433.2 L505.1,432.2 L504.7,431.2 L504.3,430.2 L503.8,429.2 L503.3,428.2 L502.7,427.2 L502.2,426.2 L501.6,425.2 L500.9,424.2 L500.3,423.2 L499.6,422.2 L498.9,421.2 L498.1,420.2 L497.4,419.2 L496.6,418.2 L495.8,417.2 L495.0,416.2 L494.2,415.2 L493.4,414.2 L492.5,413.2 L491.7,412.2 L490.8,411.2 L490.0,410.2 L489.2,409.2 L488.3,408.2 L487.5,407.2 L486.7,406.2 L485.9,405.2 L485.2,404.2 L484.4,403.2 L483.7,402.2 L482.9,401.2 L482.3,400.2 L481.6,399.2 L481.0,398.2 L480.4,397.2 L479.8,396.2 L479.2,395.2 L478.7,394.2 L478.3,393.2 L477.8,392.2 L477.4,391.2 L477.1,390.2 L476.7,389.2 L476.4,388.2 L476.2,387.2 L475.9,386.2 L475.7,385.2 L475.6,384.2 L475.5,383.2 L475.4,382.2 L475.3,381.2 L475.3,380.2 L475.4,379.2 L475.4,378.2 L475.5,377.2 L475.6,376.2 L475.8,375.2 L476.0,374.2 L476.2,373.2 L476.5,372.2 L476.8,371.2 L477.1,370.2 L477.5,369.2 L477.9,368.2 L478.3,367.2 L478.8,366.2 L479.2,365.2 L479.8,364.2 L480.3,363.2 L480.9,362.2 L481.5,361.2 L482.2,360.2 L482.9,359.2 L483.6,358.2 L484.3,357.2 L485.1,356.2 L485.9,355.2 L486.7,354.2 L487.6,353.2 L488.5,352.2 L489.4,351.2 L490.3,350.2 L491.2,349.2 L492.2,348.2 L493.2,347.2 L494.2,346.2 L495.3,345.2 L496.3,344.2 L497.4,343.2 L498.5,342.2 L499.6,341.2 L500.7,340.2 L501.8,339.2 L503.0,338.2 L504.1,337.2 L505.3,336.2 L506.5,335.2 L507.6,334.2 L508.8,333.2 L510.0,332.2 L511.2,331.2 L512.4,330.2 L513.6,329.2 L514.8,328.2 L516.0,327.2 L517.2,326.2 L518.4,325.2 L519.6,324.2 L520.7,323.2 L521.9,322.2 L523.1,321.2 L524.3,320.2 L525.5,319.2 L526.6,318.2 L527.8,317.2 L528.9,316.2 L530.1,315.2 L531.2,314.2 L532.4,313.2 L533.5,312.2 L534.6,311.2 L535.7,310.2 L536.8,309.2 L537.8,308.2 L538.9,307.2 L539.9,306.2 L541.0,305.2 L542.0,304.2 L543.0,303.2 L544.0,302.2 L545.0,301.2 L545.9,300.2 L546.8,299.2 L547.8,298.2 L548.7,297.2 L549.5,296.2 L550.4,295.2 L551.2,294.2 L552.0,293.2 L552.8,292.2 L553.6,291.2 L554.4,290.2 L555.1,289.2 L555.8,288.2 L556.5,287.2 L557.2,286.2 L557.8,285.2 L558.4,284.2 L559.0,283.2 L559.6,282.2 L560.1,281.2 L560.6,280.2 L561.1,279.2 L561.6,278.2 L562.1,277.2 L562.5,276.2 L562.9,275.2 L563.3,274.2 L563.7,273.2 L564.1,272.2 L564.4,271.2 L564.7,270.2 L565.0,269.2 L565.3,268.2 L565.6,267.2 L565.8,266.2 L566.0,265.2 L566.3,264.2 L566.5,263.2 L566.7,262.2 L566.8,261.2 L567.0,260.2 L567.2,259.2 L567.3,258.2 L567.4,257.2 L567.5,256.2 L567.7,255.2 L567.8,254.2 L567.9,253.2 L568.0,252.2 L568.0,251.2 L568.1,250.2 L568.2,249.2 L568.2,248.2 L568.3,247.2 L568.3,246.2 L568.4,245.2 L568.4,244.2 L568.5,243.2 L568.5,242.2 L568.5,241.2 L568.6,240.2 L568.6,239.2 L568.6,238.2 L568.6,237.2Z" fill="#8DA0CB" stroke="#000" stroke-width="1.5" stroke-linejoin="miter" stroke-miterlimit="1"/>
<path d="M183.0,337.1V404.0M183.0,496.1V544.7" stroke="#000" stroke-width="1.5" fill="none"/>
<rect x="163.7" y="404.0" width="38.6" height="92.1" fill="#fff" stroke="#000" stroke-width="1.5"/>
<path d="M163.7,447.6H202.3" stroke="#000" stroke-width="2.8" fill="none"/>
<path d="M376.0,287.2V370.7M376.0,485.2V543.3" stroke="#000" stroke-width="1.5" fill="none"/>
<rect x="356.7" y="370.7" width="38.6" height="114.5" fill="#fff" stroke="#000" stroke-width="1.5"/>
<path d="M356.7,437.3H395.3" stroke="#000" stroke-width="2.8" fill="none"/>
<path d="M568.8,316.7V360.6M568.8,462.0V533.5" stroke="#000" stroke-width="1.5" fill="none"/>
<rect x="549.5" y="360.6" width="38.6" height="101.4" fill="#fff" stroke="#000" stroke-width="1.5"/>
<path d="M549.5,402.6H588.1" stroke="#000" stroke-width="2.8" fill="none"/>
<path d="M67.2,40.5V709.8H685" stroke="#000" stroke-width="1.8" fill="none" stroke-linejoin="miter"/>
<path d="M63.6,151.9H67.2" stroke="#000" stroke-width="1.8"/>
<text transform="translate(61.60,159.40) scale(1.012,1.05)" text-anchor="end" class="t">90</text>
<path d="M63.6,233.1H67.2" stroke="#000" stroke-width="1.8"/>
<text transform="translate(61.60,240.55) scale(1.012,1.05)" text-anchor="end" class="t">80</text>
<path d="M63.6,314.2H67.2" stroke="#000" stroke-width="1.8"/>
<text transform="translate(61.60,321.70) scale(1.012,1.05)" text-anchor="end" class="t">70</text>
<path d="M63.6,395.4H67.2" stroke="#000" stroke-width="1.8"/>
<text transform="translate(61.60,402.85) scale(1.012,1.05)" text-anchor="end" class="t">60</text>
<path d="M63.6,476.5H67.2" stroke="#000" stroke-width="1.8"/>
<text transform="translate(61.60,484.00) scale(1.012,1.05)" text-anchor="end" class="t">50</text>
<path d="M63.6,557.6H67.2" stroke="#000" stroke-width="1.8"/>
<text transform="translate(61.60,565.15) scale(1.012,1.05)" text-anchor="end" class="t">40</text>
<path d="M63.6,638.8H67.2" stroke="#000" stroke-width="1.8"/>
<text transform="translate(61.60,646.30) scale(1.012,1.05)" text-anchor="end" class="t">30</text>
<path d="M183.0,709.8V713" stroke="#000" stroke-width="1.8"/>
<text transform="translate(183.00,730.80) scale(1.0,0.95)" text-anchor="middle" class="t">teacher−centered</text>
<path d="M376.0,709.8V713" stroke="#000" stroke-width="1.8"/>
<text transform="translate(375.90,730.80) scale(0.98,0.95)" text-anchor="middle" class="t">interactive</text>
<path d="M568.8,709.8V713" stroke="#000" stroke-width="1.8"/>
<text transform="translate(568.80,730.80) scale(1.0,0.95)" text-anchor="middle" class="t">student−centered</text>
<text transform="translate(28,375) rotate(-90) scale(1.003,1.04)" text-anchor="middle" font-size="32">emotional learning engagement</text>
<text transform="translate(88.70,87.60) scale(1.0,1.04)" font-size="24">Anova, p = 0.021</text>
<path d="M183,160.9V152.1H569V160.9" stroke="#000" stroke-width="1.8" fill="none"/>
<text transform="translate(376.30,143.80) scale(1.012,1.05)" text-anchor="middle" class="t">p = 0.003</text>
<path d="M183,201.70000000000002V192.9H372.2V201.70000000000002" stroke="#000" stroke-width="1.8" fill="none"/>
<text transform="translate(279.60,184.60) scale(1.012,1.05)" text-anchor="middle" class="t">p = 0.17</text>
<path d="M380,201.70000000000002V192.9H569V201.70000000000002" stroke="#000" stroke-width="1.8" fill="none"/>
<text transform="translate(472.80,184.60) scale(1.012,1.05)" text-anchor="middle" class="t">p = 0.15</text>
<rect x="118.9" y="0.05" width="20" height="20.85" fill="#66C2A5" stroke="#000" stroke-width="1.5"/>
<text transform="translate(146.00,18.30) scale(1.0,0.93)" class="t">teacher−centered</text>
<rect x="320.4" y="0.05" width="20" height="20.85" fill="#FC8D62" stroke="#000" stroke-width="1.5"/>
<text transform="translate(347.60,18.30) scale(0.985,0.93)" class="t">interactive</text>
<rect x="451.0" y="0.05" width="20" height="20.85" fill="#8DA0CB" stroke="#000" stroke-width="1.5"/>
<text transform="translate(478.00,18.30) scale(1.0,0.93)" class="t">student−centered</text>
</svg></body></html>
